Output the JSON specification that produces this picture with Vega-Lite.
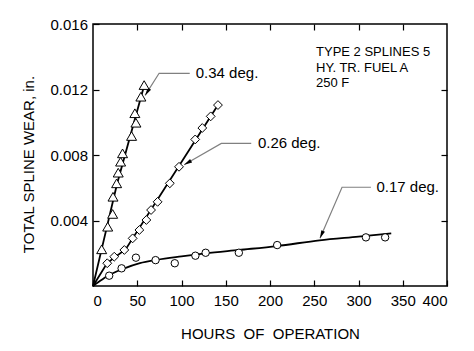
{
  "$schema": "https://vega.github.io/schema/vega-lite/v6.json",
  "width": 354,
  "height": 262,
  "autosize": "none",
  "padding": {"left": 93, "top": 24, "right": 27, "bottom": 65},
  "background": "white",
  "config": {
    "view": {"stroke": "black", "strokeWidth": 1.5},
    "font": "Liberation Sans",
    "axis": {
      "domain": false, "grid": false, "ticks": true, "tickSize": -6, "tickColor": "black", "tickWidth": 1.2,
      "labelFont": "Liberation Sans", "labelFontSize": 15, "labelColor": "black",
      "titleFont": "Liberation Sans", "titleFontSize": 15, "titleFontWeight": "normal", "titleColor": "black"
    }
  },
  "datasets": {
    "points": [
      {"series": "0.34", "hours": 9.8, "wear": 0.00224},
      {"series": "0.34", "hours": 16.6, "wear": 0.00362},
      {"series": "0.34", "hours": 22.2, "wear": 0.0044},
      {"series": "0.34", "hours": 22.6, "wear": 0.00545},
      {"series": "0.34", "hours": 26.7, "wear": 0.00627},
      {"series": "0.34", "hours": 28.5, "wear": 0.00692},
      {"series": "0.34", "hours": 31.2, "wear": 0.00759},
      {"series": "0.34", "hours": 33.4, "wear": 0.0081},
      {"series": "0.34", "hours": 43.6, "wear": 0.00916},
      {"series": "0.34", "hours": 48.5, "wear": 0.00997},
      {"series": "0.34", "hours": 47.3, "wear": 0.01055},
      {"series": "0.34", "hours": 54.1, "wear": 0.01156},
      {"series": "0.34", "hours": 57.8, "wear": 0.01227},
      {"series": "0.26", "hours": 16.1, "wear": 0.00139},
      {"series": "0.26", "hours": 24.0, "wear": 0.00179},
      {"series": "0.26", "hours": 35.4, "wear": 0.0022},
      {"series": "0.26", "hours": 44.8, "wear": 0.00291},
      {"series": "0.26", "hours": 52.4, "wear": 0.00342},
      {"series": "0.26", "hours": 60.3, "wear": 0.00403},
      {"series": "0.26", "hours": 65.6, "wear": 0.00464},
      {"series": "0.26", "hours": 73.0, "wear": 0.00514},
      {"series": "0.26", "hours": 86.8, "wear": 0.00627},
      {"series": "0.26", "hours": 97.2, "wear": 0.00728},
      {"series": "0.26", "hours": 115.5, "wear": 0.00895},
      {"series": "0.26", "hours": 123.5, "wear": 0.00965},
      {"series": "0.26", "hours": 133.0, "wear": 0.01036},
      {"series": "0.26", "hours": 141.2, "wear": 0.01105},
      {"series": "0.17", "hours": 18.3, "wear": 0.00063},
      {"series": "0.17", "hours": 32.3, "wear": 0.00108},
      {"series": "0.17", "hours": 48.5, "wear": 0.00173},
      {"series": "0.17", "hours": 70.7, "wear": 0.00158},
      {"series": "0.17", "hours": 92.4, "wear": 0.00139},
      {"series": "0.17", "hours": 115.7, "wear": 0.00185},
      {"series": "0.17", "hours": 127.3, "wear": 0.00203},
      {"series": "0.17", "hours": 164.8, "wear": 0.00203},
      {"series": "0.17", "hours": 208.1, "wear": 0.0025},
      {"series": "0.17", "hours": 308.4, "wear": 0.00297},
      {"series": "0.17", "hours": 330.1, "wear": 0.00297}
    ],
    "straight": [
      {"series": "0.34", "i": 0, "hours": 0, "wear": 0},
      {"series": "0.34", "i": 1, "hours": 10, "wear": 0.0023},
      {"series": "0.34", "i": 2, "hours": 27, "wear": 0.0062},
      {"series": "0.34", "i": 3, "hours": 58.6, "wear": 0.0124},
      {"series": "0.26", "i": 0, "hours": 0, "wear": 0},
      {"series": "0.26", "i": 1, "hours": 16, "wear": 0.0014},
      {"series": "0.26", "i": 2, "hours": 37, "wear": 0.00225},
      {"series": "0.26", "i": 3, "hours": 143, "wear": 0.0112}
    ],
    "curve": [
      {"series": "0.17", "i": 0, "hours": 0, "wear": 0},
      {"series": "0.17", "i": 1, "hours": 5, "wear": 0.0002},
      {"series": "0.17", "i": 2, "hours": 15, "wear": 0.00057},
      {"series": "0.17", "i": 3, "hours": 34, "wear": 0.00105},
      {"series": "0.17", "i": 4, "hours": 53, "wear": 0.0014},
      {"series": "0.17", "i": 5, "hours": 72, "wear": 0.0016},
      {"series": "0.17", "i": 6, "hours": 100, "wear": 0.00181},
      {"series": "0.17", "i": 7, "hours": 127, "wear": 0.00199},
      {"series": "0.17", "i": 8, "hours": 165, "wear": 0.0022},
      {"series": "0.17", "i": 9, "hours": 208, "wear": 0.00244},
      {"series": "0.17", "i": 10, "hours": 256, "wear": 0.00279},
      {"series": "0.17", "i": 11, "hours": 300, "wear": 0.00302},
      {"series": "0.17", "i": 12, "hours": 337, "wear": 0.00322}
    ],
    "leaders": [
      {"label": "0.34 deg.", "i": 0, "hours": 58.9, "wear": 0.01164},
      {"label": "0.34 deg.", "i": 1, "hours": 74.7, "wear": 0.01299},
      {"label": "0.34 deg.", "i": 2, "hours": 109.3, "wear": 0.01299},
      {"label": "0.26 deg.", "i": 0, "hours": 103, "wear": 0.0074},
      {"label": "0.26 deg.", "i": 1, "hours": 145, "wear": 0.00871},
      {"label": "0.26 deg.", "i": 2, "hours": 178.8, "wear": 0.00871},
      {"label": "0.17 deg.", "i": 0, "hours": 256.5, "wear": 0.00291},
      {"label": "0.17 deg.", "i": 1, "hours": 281.4, "wear": 0.00603},
      {"label": "0.17 deg.", "i": 2, "hours": 314, "wear": 0.00603}
    ],
    "arrows": [
      {"label": "0.34 deg.", "hours": 58.9, "wear": 0.01164, "angle": 212},
      {"label": "0.26 deg.", "hours": 103, "wear": 0.0074, "angle": 240},
      {"label": "0.17 deg.", "hours": 256.5, "wear": 0.00291, "angle": 203}
    ],
    "labels": [
      {"label": "0.34 deg.", "hours": 116.1, "wear": 0.01299},
      {"label": "0.26 deg.", "hours": 186.3, "wear": 0.00871},
      {"label": "0.17 deg.", "hours": 320.3, "wear": 0.00603}
    ],
    "notes": [
      {"text": "TYPE 2 SPLINES 5", "hours": 252, "wear": 0.01431},
      {"text": "HY. TR. FUEL A", "hours": 252, "wear": 0.01329},
      {"text": "250 F", "hours": 252, "wear": 0.01238}
    ]
  },
  "resolve": {"axis": {"x": "independent", "y": "independent"}},
  "layer": [
    {
      "data": {"name": "straight"},
      "mark": {"type": "line", "color": "black", "strokeWidth": 1.8, "interpolate": "linear"},
      "encoding": {
        "x": {"field": "hours", "type": "quantitative", "scale": {"domain": [0, 400]},
          "axis": {"orient": "bottom", "values": [0, 50, 100, 150, 200, 250, 300, 350, 400], "labelPadding": 13.5,
            "title": "HOURS\u00a0 OF\u00a0 OPERATION", "titleY": 52, "titleBaseline": "alphabetic"}},
        "y": {"field": "wear", "type": "quantitative", "scale": {"domain": [0, 0.016]},
          "axis": {"orient": "left", "values": [0.004, 0.008, 0.012, 0.016], "format": ".3f", "labelPadding": 11.5,
            "title": "TOTAL SPLINE WEAR, in.", "titleX": -60, "titleY": 140, "titleAngle": -90, "titleBaseline": "alphabetic", "titleAlign": "center"}},
        "detail": {"field": "series"},
        "order": {"field": "i"}
      }
    },
    {
      "data": {"name": "leaders"},
      "mark": {"type": "line", "color": "#808080", "strokeWidth": 1.2},
      "encoding": {
        "x": {"field": "hours", "type": "quantitative", "scale": {"domain": [0, 400]},
          "axis": {"orient": "top", "values": [50, 100, 150, 200, 250, 300, 350], "labels": false, "title": null}},
        "y": {"field": "wear", "type": "quantitative", "scale": {"domain": [0, 0.016]},
          "axis": {"orient": "right", "values": [0.004, 0.008, 0.012], "labels": false, "title": null}},
        "detail": {"field": "label"},
        "order": {"field": "i"}
      }
    },
    {
      "data": {"name": "curve"},
      "mark": {"type": "line", "color": "black", "strokeWidth": 1.8, "interpolate": "monotone"},
      "encoding": {
        "x": {"field": "hours", "type": "quantitative", "scale": {"domain": [0, 400]}, "axis": null},
        "y": {"field": "wear", "type": "quantitative", "scale": {"domain": [0, 0.016]}, "axis": null},
        "order": {"field": "i"}
      }
    },
    {
      "data": {"name": "arrows"},
      "mark": {"type": "point", "shape": "M0,0L0.5,2L-0.5,2Z", "size": 64, "filled": true, "color": "black", "opacity": 1},
      "encoding": {
        "x": {"field": "hours", "type": "quantitative", "scale": {"domain": [0, 400]}, "axis": null},
        "y": {"field": "wear", "type": "quantitative", "scale": {"domain": [0, 0.016]}, "axis": null},
        "angle": {"field": "angle", "type": "quantitative", "scale": null}
      }
    },
    {
      "data": {"name": "points"},
      "mark": {"type": "point", "filled": false, "fill": "white", "stroke": "black", "strokeWidth": 1, "opacity": 1},
      "encoding": {
        "x": {"field": "hours", "type": "quantitative", "scale": {"domain": [0, 400]}, "axis": null},
        "y": {"field": "wear", "type": "quantitative", "scale": {"domain": [0, 0.016]}, "axis": null},
        "shape": {"field": "series", "type": "nominal", "scale": {"domain": ["0.34", "0.26", "0.17"], "range": ["triangle-up", "diamond", "circle"]}, "legend": null},
        "size": {"field": "series", "type": "nominal", "scale": {"domain": ["0.34", "0.26", "0.17"], "range": [100, 55, 70]}, "legend": null}
      }
    },
    {
      "data": {"name": "labels"},
      "mark": {"type": "text", "align": "left", "baseline": "middle", "fontSize": 15, "color": "black", "font": "Liberation Sans"},
      "encoding": {
        "x": {"field": "hours", "type": "quantitative", "scale": {"domain": [0, 400]}, "axis": null},
        "y": {"field": "wear", "type": "quantitative", "scale": {"domain": [0, 0.016]}, "axis": null},
        "text": {"field": "label"}
      }
    },
    {
      "data": {"name": "notes"},
      "mark": {"type": "text", "align": "left", "baseline": "middle", "fontSize": 13, "color": "black", "font": "Liberation Sans"},
      "encoding": {
        "x": {"field": "hours", "type": "quantitative", "scale": {"domain": [0, 400]}, "axis": null},
        "y": {"field": "wear", "type": "quantitative", "scale": {"domain": [0, 0.016]}, "axis": null},
        "text": {"field": "text"}
      }
    }
  ]
}
